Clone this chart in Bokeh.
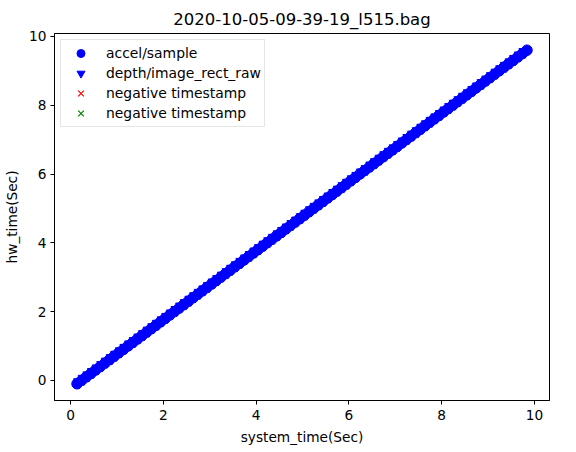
from bokeh.plotting import figure
from bokeh.models import ColumnDataSource, FixedTicker, Range1d, Legend, LegendItem
from bokeh.embed import file_html
from bokeh.resources import INLINE

title_text = "2020-10-05-09-39-19_l515.bag"
x_label = "system_time(Sec)"
y_label = "hw_time(Sec)"
x_ticks = [0, 2, 4, 6, 8, 10]
y_ticks = [0, 2, 4, 6, 8, 10]

accel_sys = [0.14, 0.24, 0.34, 0.44, 0.54, 0.64, 0.74, 0.84, 0.94,
             1.04, 1.14, 1.24, 1.34, 1.44, 1.54, 1.64, 1.74, 1.84, 1.94,
             2.04, 2.14, 2.24, 2.34, 2.44, 2.54, 2.64, 2.74, 2.84, 2.94,
             3.04, 3.14, 3.24, 3.34, 3.44, 3.54, 3.64, 3.74, 3.84, 3.94,
             4.04, 4.14, 4.24, 4.34, 4.44, 4.54, 4.64, 4.74, 4.84, 4.94,
             5.04, 5.14, 5.24, 5.34, 5.44, 5.54, 5.64, 5.74, 5.84, 5.94,
             6.04, 6.14, 6.24, 6.34, 6.44, 6.54, 6.64, 6.74, 6.84, 6.94,
             7.04, 7.14, 7.24, 7.34, 7.44, 7.54, 7.64, 7.74, 7.84, 7.94,
             8.04, 8.14, 8.24, 8.34, 8.44, 8.54, 8.64, 8.74, 8.84, 8.94,
             9.04, 9.14, 9.24, 9.34, 9.44, 9.54, 9.64, 9.74, 9.84]
accel_hw = [-0.10, 0.00, 0.10, 0.20, 0.30, 0.40, 0.50, 0.60, 0.70,
            0.80, 0.90, 1.00, 1.10, 1.20, 1.30, 1.40, 1.50, 1.60, 1.70,
            1.80, 1.90, 2.00, 2.10, 2.20, 2.30, 2.40, 2.50, 2.60, 2.70,
            2.80, 2.90, 3.00, 3.10, 3.20, 3.30, 3.40, 3.50, 3.60, 3.70,
            3.80, 3.90, 4.00, 4.10, 4.20, 4.30, 4.40, 4.50, 4.60, 4.70,
            4.80, 4.90, 5.00, 5.10, 5.20, 5.30, 5.40, 5.50, 5.60, 5.70,
            5.80, 5.90, 6.00, 6.10, 6.20, 6.30, 6.40, 6.50, 6.60, 6.70,
            6.80, 6.90, 7.00, 7.10, 7.20, 7.30, 7.40, 7.50, 7.60, 7.70,
            7.80, 7.90, 8.00, 8.10, 8.20, 8.30, 8.40, 8.50, 8.60, 8.70,
            8.80, 8.90, 9.00, 9.10, 9.20, 9.30, 9.40, 9.50, 9.60]

depth_sys = [0.19, 0.29, 0.39, 0.49, 0.59, 0.69, 0.79, 0.89, 0.99,
             1.09, 1.19, 1.29, 1.39, 1.49, 1.59, 1.69, 1.79, 1.89, 1.99,
             2.09, 2.19, 2.29, 2.39, 2.49, 2.59, 2.69, 2.79, 2.89, 2.99,
             3.09, 3.19, 3.29, 3.39, 3.49, 3.59, 3.69, 3.79, 3.89, 3.99,
             4.09, 4.19, 4.29, 4.39, 4.49, 4.59, 4.69, 4.79, 4.89, 4.99,
             5.09, 5.19, 5.29, 5.39, 5.49, 5.59, 5.69, 5.79, 5.89, 5.99,
             6.09, 6.19, 6.29, 6.39, 6.49, 6.59, 6.69, 6.79, 6.89, 6.99,
             7.09, 7.19, 7.29, 7.39, 7.49, 7.59, 7.69, 7.79, 7.89, 7.99,
             8.09, 8.19, 8.29, 8.39, 8.49, 8.59, 8.69, 8.79, 8.89, 8.99,
             9.09, 9.19, 9.29, 9.39, 9.49, 9.59, 9.69, 9.79]
depth_hw = [-0.05, 0.05, 0.15, 0.25, 0.35, 0.45, 0.55, 0.65, 0.75,
            0.85, 0.95, 1.05, 1.15, 1.25, 1.35, 1.45, 1.55, 1.65, 1.75,
            1.85, 1.95, 2.05, 2.15, 2.25, 2.35, 2.45, 2.55, 2.65, 2.75,
            2.85, 2.95, 3.05, 3.15, 3.25, 3.35, 3.45, 3.55, 3.65, 3.75,
            3.85, 3.95, 4.05, 4.15, 4.25, 4.35, 4.45, 4.55, 4.65, 4.75,
            4.85, 4.95, 5.05, 5.15, 5.25, 5.35, 5.45, 5.55, 5.65, 5.75,
            5.85, 5.95, 6.05, 6.15, 6.25, 6.35, 6.45, 6.55, 6.65, 6.75,
            6.85, 6.95, 7.05, 7.15, 7.25, 7.35, 7.45, 7.55, 7.65, 7.75,
            7.85, 7.95, 8.05, 8.15, 8.25, 8.35, 8.45, 8.55, 8.65, 8.75,
            8.85, 8.95, 9.05, 9.15, 9.25, 9.35, 9.45, 9.55]

# no negative timestamps were found (legend-only series, no visible points)
neg_accel_sys = [float("nan")]
neg_accel_hw = [float("nan")]
neg_depth_sys = [float("nan")]
neg_depth_hw = [float("nan")]

FONT = "DejaVu Sans"

p = figure(output_backend="svg", toolbar_location=None,
           width=568, height=447,
           min_border_left=54, min_border_right=19,
           min_border_top=33, min_border_bottom=46,
           x_range=Range1d(-0.345, 10.325), y_range=Range1d(-0.585, 10.085),
           title=title_text)

p.title.align = "center"
p.title.text_font = FONT
p.title.text_font_size = "16.5px"
p.title.text_font_style = "normal"
p.title.text_color = "black"

p.grid.visible = False
p.outline_line_color = "black"
p.outline_line_width = 1
p.background_fill_color = "white"
p.border_fill_color = "white"

for ax, ticks, lab in ((p.xaxis[0], x_ticks, x_label), (p.yaxis[0], y_ticks, y_label)):
    ax.ticker = FixedTicker(ticks=ticks)
    ax.axis_label = lab
    ax.axis_label_text_font = FONT
    ax.axis_label_text_font_size = "13.7px"
    ax.axis_label_text_font_style = "normal"
    ax.axis_label_text_color = "black"
    ax.major_label_text_font = FONT
    ax.major_label_text_font_size = "13.7px"
    ax.major_label_text_color = "black"
    ax.major_tick_out = 4
    ax.major_tick_in = 0
    ax.minor_tick_out = 0
    ax.minor_tick_in = 0
    ax.axis_line_color = "black"
    ax.major_tick_line_color = "black"
    ax.major_label_standoff = 4
    ax.axis_label_standoff = 6
p.xaxis[0].major_label_standoff = 5

src_a = ColumnDataSource(dict(x=accel_sys, y=accel_hw))
src_d = ColumnDataSource(dict(x=depth_sys, y=depth_hw))
src_na = ColumnDataSource(dict(x=neg_accel_sys, y=neg_accel_hw))
src_nd = ColumnDataSource(dict(x=neg_depth_sys, y=neg_depth_hw))

r_a = p.scatter("x", "y", source=src_a, marker="circle", size=10.5,
                fill_color="blue", line_color="blue")
r_d = p.scatter("x", "y", source=src_d, marker="inverted_triangle", size=11.5,
                fill_color="blue", line_color="blue")
r_na = p.scatter("x", "y", source=src_na, marker="x", size=8,
                 line_color="red", line_width=1.2)
r_nd = p.scatter("x", "y", source=src_nd, marker="x", size=8,
                 line_color="green", line_width=1.2)

legend = Legend(items=[
    LegendItem(label="accel/sample", renderers=[r_a]),
    LegendItem(label="depth/image_rect_raw", renderers=[r_d]),
    LegendItem(label="negative timestamp", renderers=[r_na]),
    LegendItem(label="negative timestamp", renderers=[r_nd]),
], location="top_left")
legend.margin = 6
legend.padding = 3
legend.spacing = 0
legend.glyph_width = 33
legend.glyph_height = 20
legend.label_height = 20
legend.label_standoff = 9
legend.label_text_font = FONT
legend.label_text_font_size = "13.9px"
legend.label_text_color = "black"
legend.border_line_color = "#cccccc"
legend.border_line_width = 1
legend.background_fill_alpha = 0.8
p.add_layout(legend)

open("out.html", "w").write(file_html(p, INLINE))
